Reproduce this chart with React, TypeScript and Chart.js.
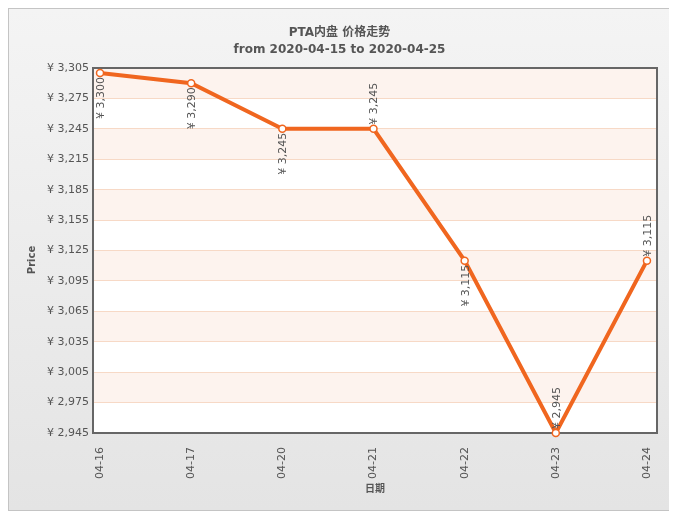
import { useEffect, useRef } from 'react';
import { Chart, registerables, Plugin } from 'chart.js';

Chart.register(...registerables);

const dates = ['04-16', '04-17', '04-20', '04-21', '04-22', '04-23', '04-24'];
const prices = [3300, 3290, 3245, 3245, 3115, 2945, 3115];
const labelSide = ['below', 'below', 'below', 'above', 'below', 'above', 'above'];

const titleText = 'PTA内盘 价格走势';
const subtitleText = 'from 2020-04-15 to 2020-04-25';
const yTitle = 'Price';
const xTitle = '日期';

const yMin = 2945;
const yMax = 3305;
const yStep = 30;

const FONT = '"DejaVu Sans", "Noto Sans CJK SC", sans-serif';
const TEXT = '#555555';
const LINE = '#f0661f';

const fmt = (v: number) => '¥ ' + v.toLocaleString('en-US');

const decor: Plugin<'line'> = {
  id: 'decor',
  beforeDraw(chart) {
    const { ctx, chartArea: a, scales } = chart;
    const y = scales.y;
    ctx.save();
    ctx.fillStyle = '#ffffff';
    ctx.fillRect(a.left, a.top, a.right - a.left, a.bottom - a.top);
    let k = 0;
    for (let v = yMax; v > yMin; v -= yStep) {
      if (k % 2 === 0) {
        const t = y.getPixelForValue(v);
        const b = y.getPixelForValue(v - yStep);
        ctx.fillStyle = '#fdf3ee';
        ctx.fillRect(a.left, t, a.right - a.left, b - t);
      }
      k++;
    }
    // titles
    ctx.fillStyle = TEXT;
    ctx.textAlign = 'center';
    ctx.textBaseline = 'middle';
    ctx.font = `bold 12px ${FONT}`;
    ctx.fillText(titleText, chart.width / 2, 24);
    ctx.fillText(subtitleText, chart.width / 2, 41);
    ctx.font = `bold 10px ${FONT}`;
    ctx.fillText(xTitle, (a.left + a.right) / 2, 480);
    ctx.translate(23, 251);
    ctx.rotate(-Math.PI / 2);
    ctx.fillText(yTitle, 0, 0);
    ctx.restore();
  },
  beforeDatasetsDraw(chart) {
    const { ctx, chartArea: a } = chart;
    ctx.save();
    ctx.strokeStyle = '#666666';
    ctx.lineWidth = 2;
    ctx.strokeRect(a.left, a.top, a.right - a.left, a.bottom - a.top);
    ctx.restore();
  },
  afterDatasetsDraw(chart) {
    const { ctx } = chart;
    const meta = chart.getDatasetMeta(0);
    ctx.save();
    ctx.fillStyle = TEXT;
    ctx.font = `11px ${FONT}`;
    ctx.textBaseline = 'middle';
    meta.data.forEach((pt, i) => {
      const below = labelSide[i] === 'below';
      ctx.save();
      ctx.translate(pt.x + 1, below ? pt.y + 4 : pt.y - 4);
      ctx.rotate(-Math.PI / 2);
      ctx.textAlign = below ? 'right' : 'left';
      ctx.fillText(fmt(prices[i]), 0, 0);
      ctx.restore();
    });
    ctx.restore();
  },
};

export default function App() {
  const canvasRef = useRef<HTMLCanvasElement>(null);

  useEffect(() => {
    if (!canvasRef.current) return;
    const chart = new Chart(canvasRef.current, {
      type: 'line',
      data: {
        datasets: [
          {
            data: prices.map((p, i) => ({ x: i, y: p })),
            borderColor: LINE,
            borderWidth: 4,
            pointRadius: 3.5,
            pointBorderWidth: 1.5,
            pointBackgroundColor: '#ffffff',
            pointBorderColor: LINE,
            tension: 0,
            clip: false,
          },
        ],
      },
      options: {
        animation: false,
        responsive: false,
        devicePixelRatio: 1,
        layout: { padding: { top: 59, right: 13, left: 0, bottom: 0 } },
        plugins: { legend: { display: false }, tooltip: { enabled: false } },
        scales: {
          x: {
            type: 'linear',
            min: -0.077,
            max: 6.11,
            grid: { display: false },
            border: { display: false },
            afterBuildTicks: (scale) => {
              scale.ticks = dates.map((_, i) => ({ value: i }));
            },
            afterFit: (scale) => {
              scale.height = 77;
            },
            ticks: {
              autoSkip: false,
              minRotation: 90,
              maxRotation: 90,
              padding: 6,
              color: TEXT,
              font: { family: FONT, size: 11 },
              callback: (v) => dates[Number(v)] ?? '',
            },
          },
          y: {
            min: yMin,
            max: yMax,
            border: { display: false },
            grid: { color: '#f7d9c6', drawTicks: false, lineWidth: 1 },
            afterFit: (scale) => {
              scale.width = 84;
            },
            ticks: {
              stepSize: yStep,
              padding: 4,
              color: TEXT,
              font: { family: FONT, size: 11 },
              callback: (v) => fmt(Number(v)),
            },
          },
        },
      },
      plugins: [decor],
    });
    return () => chart.destroy();
  }, []);

  return (
    <div
      style={{
        width: 661,
        height: 501,
        border: '1px solid #c4c4c4',
        background: 'linear-gradient(#f4f4f4, #e4e4e4)',
      }}
    >
      <canvas ref={canvasRef} width={661} height={501} style={{ display: 'block' }} />
    </div>
  );
}
